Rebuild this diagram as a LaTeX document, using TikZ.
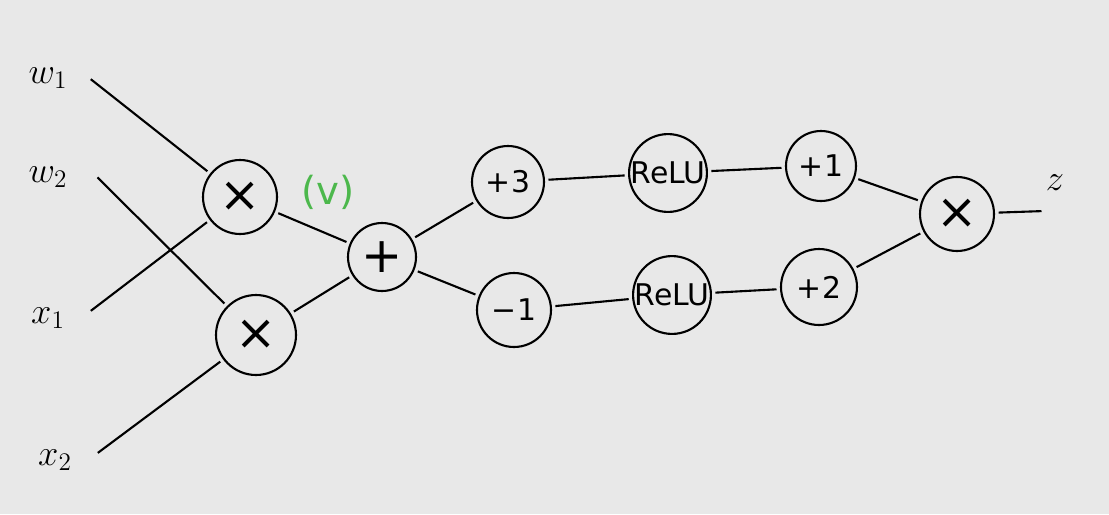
\documentclass[tikz,border=0pt]{standalone}
\usepackage{fontspec}
\setmainfont{DejaVu Sans}
\begin{document}
\begin{tikzpicture}[x=0.02cm,y=-0.02cm,
  op/.style={draw,circle,line width=1.2pt,inner sep=0pt,font=\fontsize{17}{20}\selectfont},
  big/.style={font=\fontsize{28}{30}\selectfont},
  lab/.style={font=\fontsize{22}{26}\selectfont},
  e/.style={line width=1.2pt,shorten <=2pt,shorten >=2pt}]
\fill[gray!18] (0,0) rectangle (1109,514);
\useasboundingbox (0,0) rectangle (1109,514);
\node[op,big,minimum size=1.48cm] (ma) at (240,197) {×};
\node[op,big,minimum size=1.6cm] (mb) at (256,335) {×};
\node[op,big,minimum size=1.36cm] (pl) at (382,257) {+};
\node[op,minimum size=1.44cm] (p3) at (508,182) {+3};
\node[op,minimum size=1.48cm] (n1) at (514,310) {−1};
\node[op,minimum size=1.52cm] (r1) at (668,173) {ReLU};
\node[op,minimum size=1.52cm] (r2) at (672,295) {ReLU};
\node[op,minimum size=1.4cm] (p1) at (821,166) {+1};
\node[op,minimum size=1.52cm] (p2) at (819,287) {+2};
\node[op,big,minimum size=1.48cm] (mc) at (957,214) {×};
\node[lab] (w1) at (48,78) {$w_1$};
\node[lab] (w2) at (48,177) {$w_2$};
\node[lab] (x1) at (48,318) {$x_1$};
\node[lab] (x2) at (55,460) {$x_2$};
\node[lab,text=green!60!black!70] (v) at (328,192) {(v)};
\node[lab] (z) at (1055,183) {$z$};
\coordinate (cw1) at (88,77);
\coordinate (cw2) at (95,175);
\coordinate (cx1) at (88,313);
\coordinate (cx2) at (95,455);
\coordinate (cz) at (1045,211);
\draw[e] (cw1) -- (ma);
\draw[e] (cw2) -- (mb);
\draw[e] (cx1) -- (ma);
\draw[e] (cx2) -- (mb);
\draw[e] (ma) -- (pl);
\draw[e] (mb) -- (pl);
\draw[e] (pl) -- (p3);
\draw[e] (pl) -- (n1);
\draw[e] (p3) -- (r1);
\draw[e] (n1) -- (r2);
\draw[e] (r1) -- (p1);
\draw[e] (r2) -- (p2);
\draw[e] (p1) -- (mc);
\draw[e] (p2) -- (mc);
\draw[e] (mc) -- (cz);
\end{tikzpicture}
\end{document}
